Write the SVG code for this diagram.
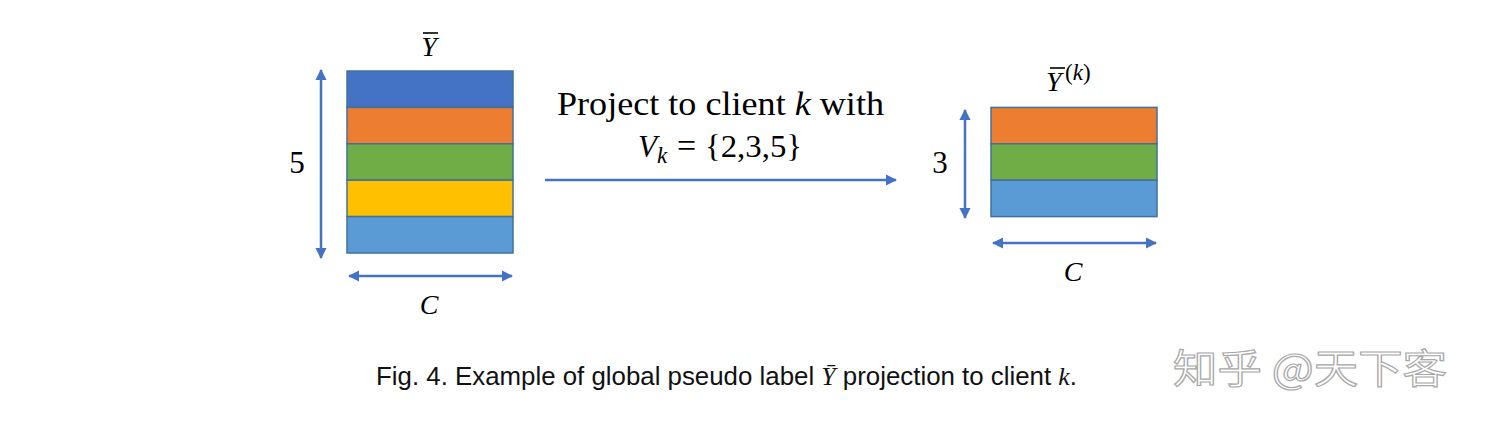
<svg xmlns="http://www.w3.org/2000/svg" width="1486" height="426" viewBox="0 0 1486 426">
<defs>
<marker id="ah" viewBox="0 0 10 10" refX="9" refY="5" markerWidth="4.5" markerHeight="4.5" orient="auto-start-reverse" markerUnits="strokeWidth">
<path d="M0,0 L10,5 L0,10 z" fill="#4472C4"/>
</marker>
<style>
.band{stroke:#41719C;stroke-width:1.5}
.arr{stroke:#4472C4;stroke-width:2.5;fill:none;marker-end:url(#ah)}
.dbl{marker-start:url(#ah)}
.math{font-family:"Liberation Serif","DejaVu Serif",serif;font-style:italic;fill:#000}
.num{font-family:"Liberation Serif","DejaVu Serif",serif;fill:#000}
.cap{font-family:"Liberation Sans Narrow","Liberation Sans","DejaVu Sans",sans-serif;fill:#111}
</style>
</defs>
<rect width="1486" height="426" fill="#fff"/>
<g id="matrix-global">
<rect class="band" x="347" y="71" width="166" height="36.4" fill="#4472C4"/>
<rect class="band" x="347" y="107.4" width="166" height="36.4" fill="#ED7D31"/>
<rect class="band" x="347" y="143.8" width="166" height="36.4" fill="#70AD47"/>
<rect class="band" x="347" y="180.2" width="166" height="36.4" fill="#FFC000"/>
<rect class="band" x="347" y="216.6" width="166" height="36.4" fill="#5B9BD5"/>
<text class="math" x="429" y="56" font-size="28" text-anchor="middle">Y</text>
<line x1="423" y1="33" x2="438" y2="33" stroke="#000" stroke-width="1.6"/>
<text class="num" x="297" y="173" font-size="31" text-anchor="middle">5</text>
<text class="math" x="429" y="314" font-size="28" text-anchor="middle">C</text>
</g>
<g id="matrix-client">
<rect class="band" x="991" y="107.4" width="166" height="36.4" fill="#ED7D31"/>
<rect class="band" x="991" y="143.8" width="166" height="36.4" fill="#70AD47"/>
<rect class="band" x="991" y="180.2" width="166" height="36.4" fill="#5B9BD5"/>
<text class="math" x="1046" y="91" font-size="28">Y</text>
<line x1="1050" y1="68" x2="1065" y2="68" stroke="#000" stroke-width="1.6"/>
<text class="num" x="1065" y="80" font-size="23">(<tspan class="math">k</tspan>)</text>
<text class="num" x="940" y="173" font-size="31" text-anchor="middle">3</text>
<text class="math" x="1073" y="281" font-size="28" text-anchor="middle">C</text>
</g>
<g id="projection-label">
<text class="num" x="557" y="115" font-size="34" textLength="327" lengthAdjust="spacingAndGlyphs">Project to client <tspan class="math">k</tspan> with</text>
<text class="num" x="638" y="157" font-size="31"><tspan class="math">V</tspan><tspan class="math" font-size="23" dy="6">k</tspan><tspan x="677" y="157" font-size="34">=</tspan></text>
<text class="num" x="705" y="157" font-size="32" textLength="97" lengthAdjust="spacingAndGlyphs">{2,3,5}</text>
</g>
<g id="connectors">
<line class="arr dbl" x1="321" y1="70" x2="321" y2="258"/>
<line class="arr dbl" x1="349" y1="276" x2="512" y2="276"/>
<line class="arr" x1="545" y1="180" x2="896" y2="180"/>
<line class="arr dbl" x1="965" y1="110" x2="965" y2="218"/>
<line class="arr dbl" x1="993" y1="243" x2="1156" y2="243"/>
</g>
<g id="caption">
<text class="cap" x="376" y="385" font-size="25" textLength="701" lengthAdjust="spacingAndGlyphs">Fig. 4.  Example of global pseudo label <tspan font-family="Liberation Serif" font-style="italic">Ȳ</tspan> projection to client <tspan font-family="Liberation Serif" font-style="italic">k</tspan>.</text>
</g>
<g id="watermark">
<text x="1173" y="383" font-size="40" font-family="Noto Sans CJK SC,sans-serif" fill="#fff" stroke="#a8a8a8" stroke-width="1.2" textLength="274" lengthAdjust="spacingAndGlyphs">知乎 @天下客</text>
</g>
</svg>
